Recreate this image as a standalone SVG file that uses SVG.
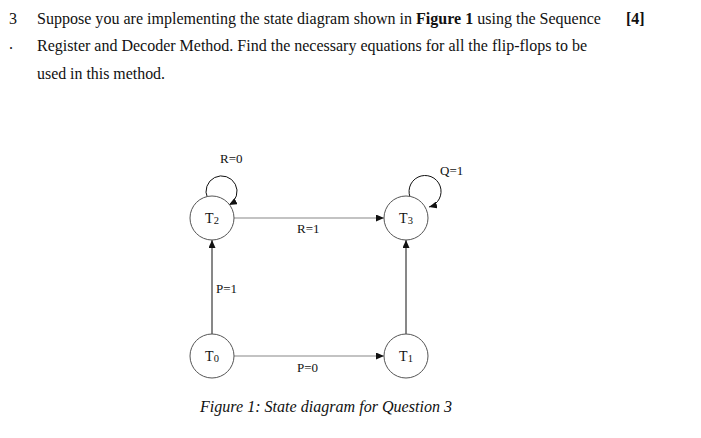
<svg xmlns="http://www.w3.org/2000/svg" width="701" height="438" viewBox="0 0 701 438">
<style>
.q{font-family:"Liberation Serif","Times New Roman",serif;font-size:16px;fill:#111}
.lb{font-family:"Liberation Serif","Times New Roman",serif;font-size:13px;fill:#111}
.nl{font-family:"Liberation Serif","Times New Roman",serif;font-size:14px;fill:#111}
.cap{font-family:"Liberation Serif","Times New Roman",serif;font-size:16px;font-style:italic;fill:#111}
.node{fill:#fff;stroke:#555;stroke-width:1}
.e{fill:none;stroke:#111;stroke-width:1}
.eg{fill:none;stroke:#888;stroke-width:1.2}
</style>
<defs>
<marker id="ah" markerUnits="userSpaceOnUse" markerWidth="8" markerHeight="7" refX="8" refY="3.5" orient="auto">
<path d="M0,0 L8,3.5 L0,7 z" fill="#111"/>
</marker>
</defs>
<rect width="701" height="438" fill="#fff"/>
<text class="q" x="9" y="24">3</text>
<text class="q" x="37" y="24" textLength="564" lengthAdjust="spacingAndGlyphs">Suppose you are implementing the state diagram shown in <tspan font-weight="bold">Figure 1</tspan> using the Sequence</text>
<text class="q" x="626" y="24" font-weight="bold">[4]</text>
<text class="q" x="9" y="49">.</text>
<text class="q" x="37" y="51" textLength="550" lengthAdjust="spacingAndGlyphs">Register and Decoder Method. Find the necessary equations for all the flip-flops to be</text>
<text class="q" x="37" y="79" textLength="128" lengthAdjust="spacingAndGlyphs">used in this method.</text>
<g id="connectors">
<line class="eg" x1="234" y1="218" x2="384" y2="218" marker-end="url(#ah)"/>
<line class="eg" x1="234" y1="356" x2="384" y2="356" marker-end="url(#ah)"/>
<line class="e" x1="212" y1="334" x2="212" y2="240" marker-end="url(#ah)"/>
<line class="e" x1="406" y1="334" x2="406" y2="240" marker-end="url(#ah)"/>
<path class="e" d="M 207.5 198 A 15.5 15.5 0 1 1 229 205" marker-end="url(#ah)"/>
<path class="e" d="M 411.5 200 A 16 16 0 1 1 429 207" marker-end="url(#ah)"/>
<text class="lb" x="220" y="163">R=0</text>
<text class="lb" x="440" y="175">Q=1</text>
<text class="lb" x="297" y="233">R=1</text>
<text class="lb" x="216" y="293">P=1</text>
<text class="lb" x="297" y="372">P=0</text>
</g>
<g id="T2"><circle class="node" cx="212" cy="218" r="22"/><text class="nl" x="212" y="222.5" text-anchor="middle">T<tspan font-size="10.5" dy="1">2</tspan></text></g>
<g id="T3"><circle class="node" cx="406" cy="218" r="22"/><text class="nl" x="406" y="222.5" text-anchor="middle">T<tspan font-size="10.5" dy="1">3</tspan></text></g>
<g id="T0"><circle class="node" cx="212" cy="356" r="22"/><text class="nl" x="212" y="360.5" text-anchor="middle">T<tspan font-size="10.5" dy="1">0</tspan></text></g>
<g id="T1"><circle class="node" cx="406" cy="356" r="22"/><text class="nl" x="406" y="360.5" text-anchor="middle">T<tspan font-size="10.5" dy="1">1</tspan></text></g>
<text class="cap" x="200" y="412" textLength="252" lengthAdjust="spacingAndGlyphs">Figure 1: State diagram for Question 3</text>
</svg>
